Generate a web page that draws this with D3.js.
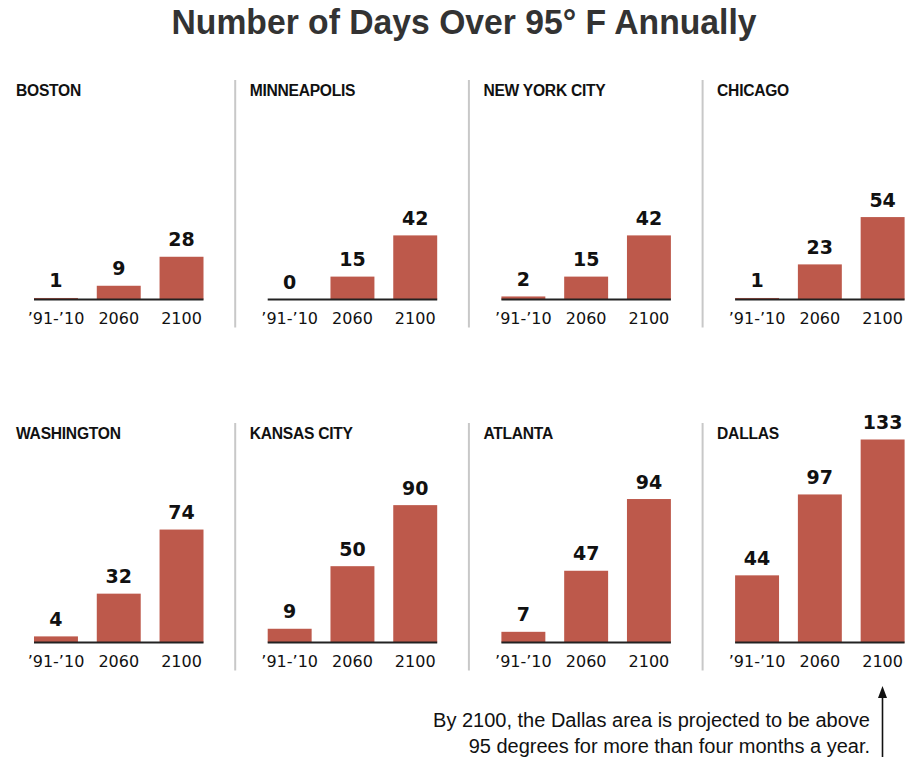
<!DOCTYPE html>
<html>
<head>
<meta charset="utf-8">
<script src="https://cdn.jsdelivr.net/npm/d3@7"></script>
<style>
  body { margin: 0; background: #fff; }
  svg { display: block; }
</style>
</head>
<body>
<div id="chart"></div>
<script>
// data
var cities = ["BOSTON", "MINNEAPOLIS", "NEW YORK CITY", "CHICAGO",
              "WASHINGTON", "KANSAS CITY", "ATLANTA", "DALLAS"];
var periods = ["\u201991-\u201910", "2060", "2100"];
var days = [
  [1, 9, 28],
  [0, 15, 42],
  [2, 15, 42],
  [1, 23, 54],
  [4, 32, 74],
  [9, 50, 90],
  [7, 47, 94],
  [44, 97, 133]
];
var titleText = "Number of Days Over 95\u00b0 F Annually";
var noteLines = ["By 2100, the Dallas area is projected to be above",
                 "95 degrees for more than four months a year."];

var width = 914, height = 769;
var barColor = "#bd594b";

var svg = d3.select("#chart")
  .append("svg")
    .attr("width", width)
    .attr("height", height);

// title
svg.append("text")
    .attr("x", 464)
    .attr("y", 33.5)
    .attr("text-anchor", "middle")
    .attr("font-family", "Liberation Sans, Arial, sans-serif")
    .attr("font-weight", "bold")
    .attr("font-size", 35)
    .attr("fill", "#333")
    .attr("textLength", 585)
    .attr("lengthAdjust", "spacingAndGlyphs")
    .text(titleText);

// panel layout
var colStart = 34, colStep = 233.7;
var rowAxis = [299.5, 642.5];
var plotW = 169.5;

var x = d3.scaleBand()
    .domain(periods)
    .range([0, plotW])
    .paddingInner(0.3)
    .paddingOuter(0);

var y = d3.scaleLinear()
    .domain([0, 133])
    .range([0, 203]);

cities.forEach(function(city, i) {
  var col = i % 4, row = Math.floor(i / 4);
  var x0 = colStart + col * colStep;
  var base = rowAxis[row];

  var g = svg.append("g")
      .attr("transform", "translate(" + x0 + "," + base + ")");

  // separator
  if (col > 0) {
    svg.append("line")
        .attr("x1", x0 - 32.5).attr("x2", x0 - 32.5)
        .attr("y1", base - 219.5).attr("y2", base + 28)
        .attr("stroke", "#c8c8c8")
        .attr("stroke-width", 2);
  }

  // city name, squeezed a little to look condensed
  g.append("text")
      .attr("transform", "translate(-18,-204) scale(0.92,1)")
      .attr("font-family", "Liberation Sans, Arial, sans-serif")
      .attr("font-weight", "bold")
      .attr("font-size", 17)
      .attr("letter-spacing", -0.3)
      .attr("fill", "#111")
      .text(city);

  var vals = days[i];

  g.selectAll(".bar")
    .data(vals)
    .enter().append("rect")
      .attr("class", "bar")
      .attr("x", function(d, j) { return x(periods[j]); })
      .attr("width", x.bandwidth())
      .attr("y", function(d) { return -y(d); })
      .attr("height", function(d) { return y(d); })
      .attr("fill", barColor);

  g.selectAll(".val")
    .data(vals)
    .enter().append("text")
      .attr("class", "val")
      .attr("x", function(d, j) { return x(periods[j]) + x.bandwidth() / 2; })
      .attr("y", function(d) { return -y(d) - 10.5; })
      .attr("text-anchor", "middle")
      .attr("font-family", "DejaVu Sans, Verdana, sans-serif")
      .attr("font-weight", "bold")
      .attr("font-size", 19)
      .attr("fill", "#111")
      .text(function(d) { return d; });

  // baseline
  g.append("line")
      .attr("x1", 0).attr("x2", plotW)
      .attr("y1", 0).attr("y2", 0)
      .attr("stroke", "#222")
      .attr("stroke-width", 2);

  g.selectAll(".lab")
    .data(periods)
    .enter().append("text")
      .attr("class", "lab")
      .attr("x", function(d) { return x(d) + x.bandwidth() / 2; })
      .attr("y", 24.5)
      .attr("text-anchor", "middle")
      .attr("font-family", "DejaVu Sans, Verdana, sans-serif")
      .attr("font-size", 16)
      .attr("fill", "#111")
      .text(function(d) { return d; });
});

// annotation
svg.selectAll(".note")
  .data(noteLines)
  .enter().append("text")
    .attr("class", "note")
    .attr("x", 870)
    .attr("y", function(d, i) { return 727 + i * 26; })
    .attr("text-anchor", "end")
    .attr("font-family", "Liberation Sans, Arial, sans-serif")
    .attr("font-size", 20)
    .attr("fill", "#111")
    .text(function(d) { return d; });

// arrow pointing at the Dallas 2100 bar
svg.append("line")
    .attr("x1", 882.5).attr("x2", 882.5)
    .attr("y1", 757).attr("y2", 696)
    .attr("stroke", "#111")
    .attr("stroke-width", 1.6);
svg.append("path")
    .attr("d", "M882.5,686 L878,698 L887,698 Z")
    .attr("fill", "#111");
</script>
</body>
</html>
